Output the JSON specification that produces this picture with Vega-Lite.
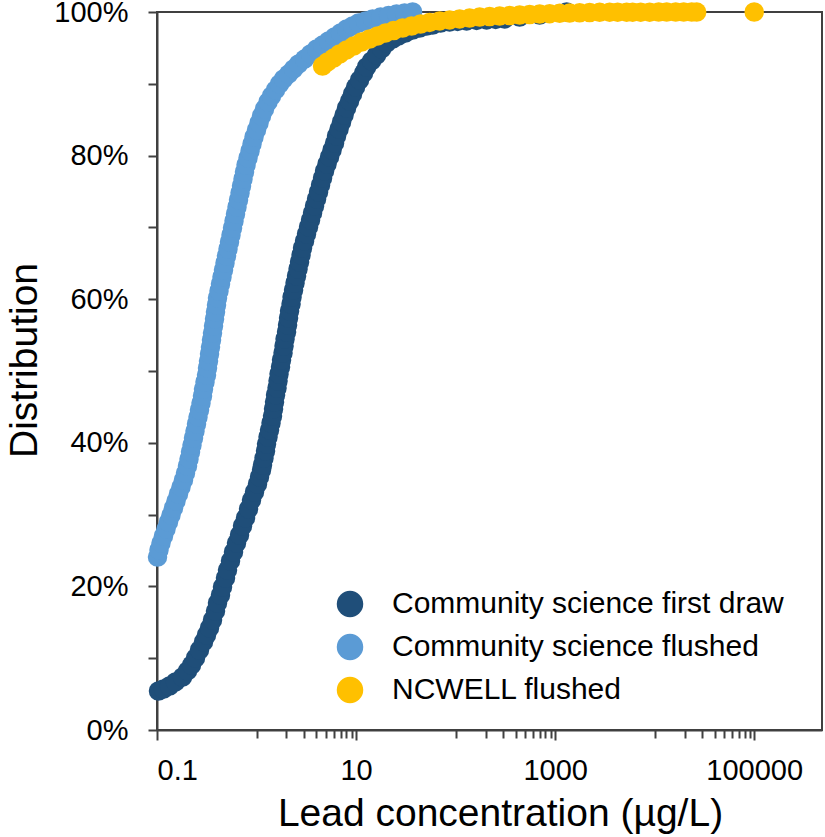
{
  "$schema": "https://vega.github.io/schema/vega-lite/v6.json",
  "width": 665,
  "height": 718,
  "autosize": {"type": "none"},
  "padding": {"left": 157, "top": 12, "right": 3, "bottom": 107},
  "background": "white",
  "config": {
    "font": "Liberation Sans",
    "view": {"stroke": "#404040", "strokeWidth": 2},
    "axis": {"grid": false, "domainColor": "#404040", "domainWidth": 2, "tickColor": "#404040", "tickWidth": 2, "labelColor": "#000000", "titleColor": "#000000", "labelFont": "Liberation Sans", "titleFont": "Liberation Sans", "titleFontWeight": "normal"}
  },
  "data": {"values": [
    {"series": "Community science first draw", "lead": 0.1035, "pct": 0.0543},
    {"series": "Community science first draw", "lead": 0.1162, "pct": 0.0571},
    {"series": "Community science first draw", "lead": 0.1335, "pct": 0.0613},
    {"series": "Community science first draw", "lead": 0.1534, "pct": 0.0669},
    {"series": "Community science first draw", "lead": 0.1804, "pct": 0.0738},
    {"series": "Community science first draw", "lead": 0.2025, "pct": 0.0822},
    {"series": "Community science first draw", "lead": 0.2222, "pct": 0.0905},
    {"series": "Community science first draw", "lead": 0.2437, "pct": 0.1003},
    {"series": "Community science first draw", "lead": 0.2674, "pct": 0.1114},
    {"series": "Community science first draw", "lead": 0.2933, "pct": 0.1226},
    {"series": "Community science first draw", "lead": 0.3145, "pct": 0.1323},
    {"series": "Community science first draw", "lead": 0.3371, "pct": 0.1421},
    {"series": "Community science first draw", "lead": 0.3613, "pct": 0.1532},
    {"series": "Community science first draw", "lead": 0.3872, "pct": 0.1657},
    {"series": "Community science first draw", "lead": 0.4055, "pct": 0.1769},
    {"series": "Community science first draw", "lead": 0.4346, "pct": 0.1880},
    {"series": "Community science first draw", "lead": 0.4552, "pct": 0.1992},
    {"series": "Community science first draw", "lead": 0.4879, "pct": 0.2117},
    {"series": "Community science first draw", "lead": 0.5110, "pct": 0.2228},
    {"series": "Community science first draw", "lead": 0.5477, "pct": 0.2354},
    {"series": "Community science first draw", "lead": 0.5873, "pct": 0.2479},
    {"series": "Community science first draw", "lead": 0.6295, "pct": 0.2604},
    {"series": "Community science first draw", "lead": 0.6748, "pct": 0.2716},
    {"series": "Community science first draw", "lead": 0.7234, "pct": 0.2841},
    {"series": "Community science first draw", "lead": 0.7752, "pct": 0.2953},
    {"series": "Community science first draw", "lead": 0.8312, "pct": 0.3078},
    {"series": "Community science first draw", "lead": 0.8906, "pct": 0.3203},
    {"series": "Community science first draw", "lead": 0.9548, "pct": 0.3315},
    {"series": "Community science first draw", "lead": 1.0233, "pct": 0.3426},
    {"series": "Community science first draw", "lead": 1.0719, "pct": 0.3524},
    {"series": "Community science first draw", "lead": 1.1226, "pct": 0.3621},
    {"series": "Community science first draw", "lead": 1.1489, "pct": 0.3691},
    {"series": "Community science first draw", "lead": 1.1895, "pct": 0.3788},
    {"series": "Community science first draw", "lead": 1.2316, "pct": 0.3886},
    {"series": "Community science first draw", "lead": 1.2604, "pct": 0.3983},
    {"series": "Community science first draw", "lead": 1.3050, "pct": 0.4081},
    {"series": "Community science first draw", "lead": 1.3510, "pct": 0.4178},
    {"series": "Community science first draw", "lead": 1.3987, "pct": 0.4276},
    {"series": "Community science first draw", "lead": 1.4480, "pct": 0.4373},
    {"series": "Community science first draw", "lead": 1.4820, "pct": 0.4471},
    {"series": "Community science first draw", "lead": 1.5167, "pct": 0.4568},
    {"series": "Community science first draw", "lead": 1.5524, "pct": 0.4666},
    {"series": "Community science first draw", "lead": 1.6070, "pct": 0.4763},
    {"series": "Community science first draw", "lead": 1.6447, "pct": 0.4861},
    {"series": "Community science first draw", "lead": 1.6831, "pct": 0.4958},
    {"series": "Community science first draw", "lead": 1.7425, "pct": 0.5056},
    {"series": "Community science first draw", "lead": 1.7832, "pct": 0.5153},
    {"series": "Community science first draw", "lead": 1.8463, "pct": 0.5251},
    {"series": "Community science first draw", "lead": 1.8898, "pct": 0.5348},
    {"series": "Community science first draw", "lead": 1.9340, "pct": 0.5446},
    {"series": "Community science first draw", "lead": 2.0022, "pct": 0.5543},
    {"series": "Community science first draw", "lead": 2.0493, "pct": 0.5641},
    {"series": "Community science first draw", "lead": 2.0972, "pct": 0.5738},
    {"series": "Community science first draw", "lead": 2.1463, "pct": 0.5836},
    {"series": "Community science first draw", "lead": 2.2222, "pct": 0.5933},
    {"series": "Community science first draw", "lead": 2.2744, "pct": 0.6031},
    {"series": "Community science first draw", "lead": 2.3547, "pct": 0.6128},
    {"series": "Community science first draw", "lead": 2.4375, "pct": 0.6226},
    {"series": "Community science first draw", "lead": 2.5234, "pct": 0.6323},
    {"series": "Community science first draw", "lead": 2.6126, "pct": 0.6421},
    {"series": "Community science first draw", "lead": 2.7050, "pct": 0.6518},
    {"series": "Community science first draw", "lead": 2.8010, "pct": 0.6616},
    {"series": "Community science first draw", "lead": 2.8990, "pct": 0.6713},
    {"series": "Community science first draw", "lead": 3.0370, "pct": 0.6811},
    {"series": "Community science first draw", "lead": 3.1800, "pct": 0.6908},
    {"series": "Community science first draw", "lead": 3.3310, "pct": 0.7006},
    {"series": "Community science first draw", "lead": 3.4890, "pct": 0.7103},
    {"series": "Community science first draw", "lead": 3.6550, "pct": 0.7201},
    {"series": "Community science first draw", "lead": 3.8270, "pct": 0.7298},
    {"series": "Community science first draw", "lead": 4.0090, "pct": 0.7396},
    {"series": "Community science first draw", "lead": 4.1990, "pct": 0.7493},
    {"series": "Community science first draw", "lead": 4.3980, "pct": 0.7591},
    {"series": "Community science first draw", "lead": 4.6060, "pct": 0.7688},
    {"series": "Community science first draw", "lead": 4.8240, "pct": 0.7786},
    {"series": "Community science first draw", "lead": 5.1100, "pct": 0.7883},
    {"series": "Community science first draw", "lead": 5.4170, "pct": 0.7981},
    {"series": "Community science first draw", "lead": 5.7400, "pct": 0.8078},
    {"series": "Community science first draw", "lead": 6.0810, "pct": 0.8175},
    {"series": "Community science first draw", "lead": 6.3680, "pct": 0.8273},
    {"series": "Community science first draw", "lead": 6.7480, "pct": 0.8370},
    {"series": "Community science first draw", "lead": 7.1510, "pct": 0.8468},
    {"series": "Community science first draw", "lead": 7.5740, "pct": 0.8565},
    {"series": "Community science first draw", "lead": 8.0260, "pct": 0.8663},
    {"series": "Community science first draw", "lead": 8.6060, "pct": 0.8760},
    {"series": "Community science first draw", "lead": 9.2220, "pct": 0.8858},
    {"series": "Community science first draw", "lead": 9.8860, "pct": 0.8955},
    {"series": "Community science first draw", "lead": 10.844, "pct": 0.9053},
    {"series": "Community science first draw", "lead": 11.896, "pct": 0.9150},
    {"series": "Community science first draw", "lead": 12.750, "pct": 0.9234},
    {"series": "Community science first draw", "lead": 14.314, "pct": 0.9318},
    {"series": "Community science first draw", "lead": 16.069, "pct": 0.9401},
    {"series": "Community science first draw", "lead": 18.043, "pct": 0.9485},
    {"series": "Community science first draw", "lead": 20.255, "pct": 0.9568},
    {"series": "Community science first draw", "lead": 23.270, "pct": 0.9624},
    {"series": "Community science first draw", "lead": 26.740, "pct": 0.9666},
    {"series": "Community science first draw", "lead": 31.447, "pct": 0.9708},
    {"series": "Community science first draw", "lead": 36.977, "pct": 0.9749},
    {"series": "Community science first draw", "lead": 43.462, "pct": 0.9777},
    {"series": "Community science first draw", "lead": 51.10, "pct": 0.9805},
    {"series": "Community science first draw", "lead": 58.72, "pct": 0.9819},
    {"series": "Community science first draw", "lead": 70.68, "pct": 0.9847},
    {"series": "Community science first draw", "lead": 87.07, "pct": 0.9861},
    {"series": "Community science first draw", "lead": 104.7, "pct": 0.9868},
    {"series": "Community science first draw", "lead": 129.0, "pct": 0.9875},
    {"series": "Community science first draw", "lead": 162.6, "pct": 0.9882},
    {"series": "Community science first draw", "lead": 204.9, "pct": 0.9889},
    {"series": "Community science first draw", "lead": 252.4, "pct": 0.9896},
    {"series": "Community science first draw", "lead": 310.8, "pct": 0.9903},
    {"series": "Community science first draw", "lead": 439.8, "pct": 0.9930},
    {"series": "Community science first draw", "lead": 698.6, "pct": 0.9958},
    {"series": "Community science first draw", "lead": 1305, "pct": 1.0},
    {"series": "Community science flushed", "lead": 0.1012, "pct": 0.2409},
    {"series": "Community science flushed", "lead": 0.1047, "pct": 0.2507},
    {"series": "Community science flushed", "lead": 0.1097, "pct": 0.2604},
    {"series": "Community science flushed", "lead": 0.1162, "pct": 0.2702},
    {"series": "Community science flushed", "lead": 0.1232, "pct": 0.2799},
    {"series": "Community science flushed", "lead": 0.1305, "pct": 0.2897},
    {"series": "Community science flushed", "lead": 0.1383, "pct": 0.2994},
    {"series": "Community science flushed", "lead": 0.1465, "pct": 0.3092},
    {"series": "Community science flushed", "lead": 0.1552, "pct": 0.3189},
    {"series": "Community science flushed", "lead": 0.1645, "pct": 0.3287},
    {"series": "Community science flushed", "lead": 0.1742, "pct": 0.3384},
    {"series": "Community science flushed", "lead": 0.1846, "pct": 0.3482},
    {"series": "Community science flushed", "lead": 0.1934, "pct": 0.3579},
    {"series": "Community science flushed", "lead": 0.2025, "pct": 0.3677},
    {"series": "Community science flushed", "lead": 0.2097, "pct": 0.3774},
    {"series": "Community science flushed", "lead": 0.2172, "pct": 0.3872},
    {"series": "Community science flushed", "lead": 0.2248, "pct": 0.3969},
    {"series": "Community science flushed", "lead": 0.2328, "pct": 0.4067},
    {"series": "Community science flushed", "lead": 0.2410, "pct": 0.4164},
    {"series": "Community science flushed", "lead": 0.2495, "pct": 0.4262},
    {"series": "Community science flushed", "lead": 0.2583, "pct": 0.4359},
    {"series": "Community science flushed", "lead": 0.2674, "pct": 0.4457},
    {"series": "Community science flushed", "lead": 0.2768, "pct": 0.4554},
    {"series": "Community science flushed", "lead": 0.2866, "pct": 0.4652},
    {"series": "Community science flushed", "lead": 0.2933, "pct": 0.4749},
    {"series": "Community science flushed", "lead": 0.3037, "pct": 0.4847},
    {"series": "Community science flushed", "lead": 0.3145, "pct": 0.4944},
    {"series": "Community science flushed", "lead": 0.3218, "pct": 0.5042},
    {"series": "Community science flushed", "lead": 0.3293, "pct": 0.5139},
    {"series": "Community science flushed", "lead": 0.3371, "pct": 0.5237},
    {"series": "Community science flushed", "lead": 0.3449, "pct": 0.5334},
    {"series": "Community science flushed", "lead": 0.3530, "pct": 0.5432},
    {"series": "Community science flushed", "lead": 0.3613, "pct": 0.5529},
    {"series": "Community science flushed", "lead": 0.3698, "pct": 0.5627},
    {"series": "Community science flushed", "lead": 0.3785, "pct": 0.5724},
    {"series": "Community science flushed", "lead": 0.3872, "pct": 0.5822},
    {"series": "Community science flushed", "lead": 0.3963, "pct": 0.5919},
    {"series": "Community science flushed", "lead": 0.4055, "pct": 0.6017},
    {"series": "Community science flushed", "lead": 0.4199, "pct": 0.6114},
    {"series": "Community science flushed", "lead": 0.4346, "pct": 0.6212},
    {"series": "Community science flushed", "lead": 0.4500, "pct": 0.6309},
    {"series": "Community science flushed", "lead": 0.4659, "pct": 0.6407},
    {"series": "Community science flushed", "lead": 0.4824, "pct": 0.6504},
    {"series": "Community science flushed", "lead": 0.4994, "pct": 0.6602},
    {"series": "Community science flushed", "lead": 0.5171, "pct": 0.6699},
    {"series": "Community science flushed", "lead": 0.5354, "pct": 0.6797},
    {"series": "Community science flushed", "lead": 0.5543, "pct": 0.6894},
    {"series": "Community science flushed", "lead": 0.5740, "pct": 0.6992},
    {"series": "Community science flushed", "lead": 0.5942, "pct": 0.7089},
    {"series": "Community science flushed", "lead": 0.6151, "pct": 0.7187},
    {"series": "Community science flushed", "lead": 0.6368, "pct": 0.7284},
    {"series": "Community science flushed", "lead": 0.6594, "pct": 0.7382},
    {"series": "Community science flushed", "lead": 0.6828, "pct": 0.7479},
    {"series": "Community science flushed", "lead": 0.7068, "pct": 0.7577},
    {"series": "Community science flushed", "lead": 0.7316, "pct": 0.7674},
    {"series": "Community science flushed", "lead": 0.7574, "pct": 0.7772},
    {"series": "Community science flushed", "lead": 0.7843, "pct": 0.7869},
    {"series": "Community science flushed", "lead": 0.8215, "pct": 0.7967},
    {"series": "Community science flushed", "lead": 0.8606, "pct": 0.8064},
    {"series": "Community science flushed", "lead": 0.9013, "pct": 0.8162},
    {"series": "Community science flushed", "lead": 0.9438, "pct": 0.8259},
    {"series": "Community science flushed", "lead": 1.0, "pct": 0.8357},
    {"series": "Community science flushed", "lead": 1.0596, "pct": 0.8454},
    {"series": "Community science flushed", "lead": 1.1226, "pct": 0.8552},
    {"series": "Community science flushed", "lead": 1.2036, "pct": 0.8649},
    {"series": "Community science flushed", "lead": 1.3050, "pct": 0.8747},
    {"series": "Community science flushed", "lead": 1.4148, "pct": 0.8830},
    {"series": "Community science flushed", "lead": 1.5524, "pct": 0.8914},
    {"series": "Community science flushed", "lead": 1.7028, "pct": 0.8997},
    {"series": "Community science flushed", "lead": 1.8677, "pct": 0.9067},
    {"series": "Community science flushed", "lead": 2.0972, "pct": 0.9136},
    {"series": "Community science flushed", "lead": 2.3547, "pct": 0.9206},
    {"series": "Community science flushed", "lead": 2.6430, "pct": 0.9276},
    {"series": "Community science flushed", "lead": 3.0365, "pct": 0.9345},
    {"series": "Community science flushed", "lead": 3.4885, "pct": 0.9415},
    {"series": "Community science flushed", "lead": 4.0088, "pct": 0.9485},
    {"series": "Community science flushed", "lead": 4.6055, "pct": 0.9540},
    {"series": "Community science flushed", "lead": 5.2907, "pct": 0.9596},
    {"series": "Community science flushed", "lead": 6.0807, "pct": 0.9652},
    {"series": "Community science flushed", "lead": 6.9855, "pct": 0.9708},
    {"series": "Community science flushed", "lead": 8.026, "pct": 0.9763},
    {"series": "Community science flushed", "lead": 9.222, "pct": 0.9805},
    {"series": "Community science flushed", "lead": 10.596, "pct": 0.9847},
    {"series": "Community science flushed", "lead": 12.459, "pct": 0.9875},
    {"series": "Community science flushed", "lead": 14.65, "pct": 0.9903},
    {"series": "Community science flushed", "lead": 17.63, "pct": 0.9930},
    {"series": "Community science flushed", "lead": 21.21, "pct": 0.9951},
    {"series": "Community science flushed", "lead": 25.53, "pct": 0.9972},
    {"series": "Community science flushed", "lead": 30.72, "pct": 0.9986},
    {"series": "Community science flushed", "lead": 36.98, "pct": 1.0},
    {"series": "NCWELL flushed", "lead": 4.6055, "pct": 0.9248},
    {"series": "NCWELL flushed", "lead": 5.171, "pct": 0.9304},
    {"series": "NCWELL flushed", "lead": 5.942, "pct": 0.9359},
    {"series": "NCWELL flushed", "lead": 6.828, "pct": 0.9415},
    {"series": "NCWELL flushed", "lead": 8.026, "pct": 0.9471},
    {"series": "NCWELL flushed", "lead": 9.438, "pct": 0.9526},
    {"series": "NCWELL flushed", "lead": 11.358, "pct": 0.9582},
    {"series": "NCWELL flushed", "lead": 13.67, "pct": 0.9624},
    {"series": "NCWELL flushed", "lead": 16.45, "pct": 0.9666},
    {"series": "NCWELL flushed", "lead": 19.79, "pct": 0.9708},
    {"series": "NCWELL flushed", "lead": 23.82, "pct": 0.9742},
    {"series": "NCWELL flushed", "lead": 29.33, "pct": 0.9777},
    {"series": "NCWELL flushed", "lead": 36.13, "pct": 0.9805},
    {"series": "NCWELL flushed", "lead": 44.48, "pct": 0.9833},
    {"series": "NCWELL flushed", "lead": 54.80, "pct": 0.9854},
    {"series": "NCWELL flushed", "lead": 69.06, "pct": 0.9875},
    {"series": "NCWELL flushed", "lead": 87.07, "pct": 0.9889},
    {"series": "NCWELL flushed", "lead": 109.7, "pct": 0.9903},
    {"series": "NCWELL flushed", "lead": 138.2, "pct": 0.9916},
    {"series": "NCWELL flushed", "lead": 174.3, "pct": 0.9930},
    {"series": "NCWELL flushed", "lead": 219.6, "pct": 0.9937},
    {"series": "NCWELL flushed", "lead": 276.8, "pct": 0.9944},
    {"series": "NCWELL flushed", "lead": 348.9, "pct": 0.9951},
    {"series": "NCWELL flushed", "lead": 439.8, "pct": 0.9958},
    {"series": "NCWELL flushed", "lead": 554.2, "pct": 0.9965},
    {"series": "NCWELL flushed", "lead": 698.6, "pct": 0.9972},
    {"series": "NCWELL flushed", "lead": 880.5, "pct": 0.9976},
    {"series": "NCWELL flushed", "lead": 1110, "pct": 0.9981},
    {"series": "NCWELL flushed", "lead": 1399, "pct": 0.9985},
    {"series": "NCWELL flushed", "lead": 1763, "pct": 0.9989},
    {"series": "NCWELL flushed", "lead": 2222, "pct": 0.9993},
    {"series": "NCWELL flushed", "lead": 2801, "pct": 0.9996},
    {"series": "NCWELL flushed", "lead": 3530, "pct": 0.9997},
    {"series": "NCWELL flushed", "lead": 4247, "pct": 0.9997},
    {"series": "NCWELL flushed", "lead": 5231, "pct": 0.9998},
    {"series": "NCWELL flushed", "lead": 6009, "pct": 0.9998},
    {"series": "NCWELL flushed", "lead": 7234, "pct": 0.9998},
    {"series": "NCWELL flushed", "lead": 8905, "pct": 0.9998},
    {"series": "NCWELL flushed", "lead": 10970, "pct": 0.9999},
    {"series": "NCWELL flushed", "lead": 13200, "pct": 0.9999},
    {"series": "NCWELL flushed", "lead": 16260, "pct": 0.9999},
    {"series": "NCWELL flushed", "lead": 19570, "pct": 0.9999},
    {"series": "NCWELL flushed", "lead": 23550, "pct": 0.9999},
    {"series": "NCWELL flushed", "lead": 26430, "pct": 0.9999},
    {"series": "NCWELL flushed", "lead": 100000, "pct": 1.0}
  ]},
  "layer": [
    {
      "mark": {"type": "point", "opacity": 0},
      "encoding": {
        "x": {"field": "lead", "type": "quantitative", "scale": {"type": "log", "domain": [0.1, 480000], "nice": false},
          "axis": {"orient": "bottom", "values": [1,2,3,4,5,6,7,8,9,100,200,300,400,500,600,700,800,900,10000,20000,30000,40000,50000,60000,70000,80000,90000], "labels": false, "domain": false, "ticks": true, "tickSize": 8, "title": null}},
        "y": {"field": "pct", "type": "quantitative", "scale": {"domain": [0, 1], "nice": false, "zero": false},
          "axis": {"orient": "left", "values": [0.1,0.3,0.5,0.7,0.9], "labels": false, "domain": false, "ticks": true, "tickSize": 9, "title": null}}
      }
    },
    {
      "mark": {"type": "point", "filled": true, "shape": "circle", "size": 380, "opacity": 1},
      "encoding": {
        "x": {"field": "lead", "type": "quantitative", "scale": {"type": "log", "domain": [0.1, 480000], "nice": false},
          "axis": {"orient": "bottom", "values": [0.1, 10, 1000, 100000], "format": "~g", "tickSize": 10, "labelFontSize": 29, "labelPadding": 16, "title": "Lead concentration (µg/L)", "titleFontSize": 39, "titleX": 343, "titleY": 64, "titleBaseline": "top"}},
        "y": {"field": "pct", "type": "quantitative", "scale": {"domain": [0, 1], "nice": false, "zero": false},
          "axis": {"orient": "left", "values": [0, 0.2, 0.4, 0.6, 0.8, 1], "format": ".0%", "tickSize": 9, "labelFontSize": 29, "labelPadding": 20, "title": "Distribution", "titleFontSize": 39, "titleX": -121, "titleY": 348, "titleBaseline": "alphabetic"}},
        "color": {"field": "series", "type": "nominal",
          "scale": {"domain": ["Community science first draw", "Community science flushed", "NCWELL flushed"], "range": ["#1F4E79", "#5B9BD5", "#FFC000"]},
          "legend": {"orient": "none", "legendX": 178, "legendY": 577, "title": null, "symbolType": "circle", "symbolSize": 700, "symbolOpacity": 1, "symbolStrokeWidth": 0, "labelFontSize": 30, "labelFont": "Liberation Sans", "labelColor": "#000000", "rowPadding": 13, "labelOffset": 27, "padding": 0, "labelLimit": 0}}
      }
    }
  ],
  "resolve": {"axis": {"x": "independent", "y": "independent"}}
}
